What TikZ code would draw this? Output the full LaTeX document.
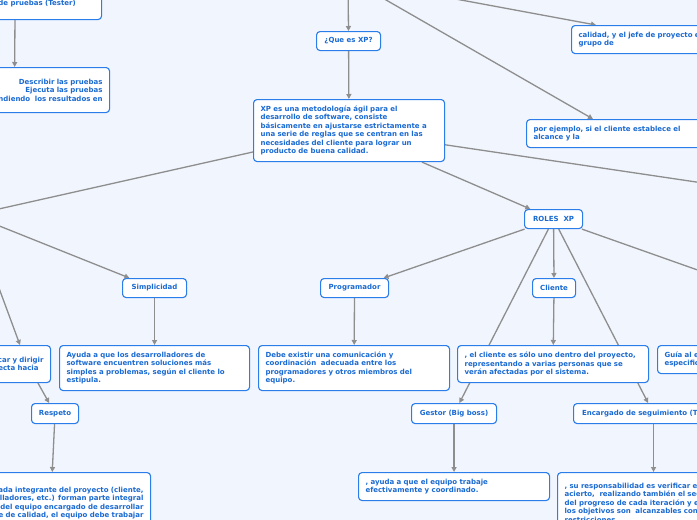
\documentclass[tikz,border=0pt]{standalone}
\usepackage{fontspec}
\setmainfont{DejaVu Sans}
\newfontfamily\boxfont{DejaVu Sans Bold}
\newcommand\nohyph{\hyphenpenalty=10000\exhyphenpenalty=10000\relax}
\usetikzlibrary{arrows.meta,backgrounds}
\definecolor{bg}{HTML}{F1F5FE}
\definecolor{bblue}{HTML}{2B7DE9}
\definecolor{tblue}{HTML}{1A6AD2}
\definecolor{edge}{HTML}{8E8E8E}
\tikzset{
  box/.style={draw=bblue, fill=white, rounded corners=3.5pt, line width=1.1pt, anchor=north west,
    font=\boxfont\fontsize{7.0}{8.5}\selectfont\nohyph, text=tblue, inner xsep=7pt, inner ysep=3pt, align=left},
  cbox/.style={box, align=center, inner xsep=0pt},
  link/.style={draw=edge, line width=1.3pt, -{Triangle[width=5pt,length=5pt]}},
  plain/.style={draw=edge, line width=1.3pt}
}
\newcommand\bx[7]{\pgfmathsetmacro\tw{#5-14}\node[#1,text width=\tw pt,minimum height=#6pt] (#2) at (#3,#4) {#7};}
\newcommand\cx[6]{\node[cbox,minimum width=#4pt,minimum height=#5pt] (#1) at (#2,#3) {#6};}
\begin{document}
\begin{tikzpicture}[x=1pt,y=-1pt]
\useasboundingbox (0,0) rectangle (697,520);
\clip (0,0) rectangle (697,520);
\coordinate (top1) at (348,-30);
\coordinate (top2) at (360,-15);
\coordinate (top3) at (380,-15);
\coordinate (offleft) at (-28,215);
\coordinate (offright) at (730,187);
\coordinate (offright2) at (740,285);
\cx{tester}{-72}{-12}{173}{31}{Encargado de pruebas (Tester)}
\bx{box}{testerdesc}{-81}{67}{190}{45}{\mbox{}\hfill Describir las pruebas\hspace*{27pt}\\\mbox{}\hfill Ejecuta las pruebas\hspace*{34pt}\\\mbox{}\hfill entendiendo\ \ los resultados en}
\cx{que}{316}{31}{64}{19}{¿Que es XP?}
\bx{box}{xp}{253}{99}{191}{62}{XP es una metodología ágil para el\\desarrollo de software, consiste\\básicamente en ajustarse estrictamente a\\una serie de reglas que se centran en las\\necesidades del cliente para lograr un\\producto de buena calidad.}
\bx{box}{calidad}{571}{25}{200}{28}{calidad, y el jefe de proyecto el\\grupo de}
\bx{box}{ejemplo}{526}{119}{200}{28}{por ejemplo, si el cliente establece el\\alcance y la}
\cx{roles}{524}{209}{58}{19}{ROLES\ \ XP}
\cx{simp}{122}{278}{64}{19}{Simplicidad}
\cx{prog}{320}{278}{68}{19}{Programador}
\cx{cli}{532}{278}{43}{19}{Cliente}
\bx{box}{leftbox}{-100}{345}{150}{37}{\mbox{}\hfill Planificar y dirigir\\\mbox{}\hfill correcta hacia\hspace*{5pt}}
\bx{box}{simpdesc}{59}{345}{190}{45}{Ayuda a que los desarrolladores de\\software encuentren soluciones más\\simples a problemas, según el cliente lo\\estipula.}
\bx{box}{progdesc}{258}{345}{191}{45}{Debe existir una comunicación y\\coordinación\ \ adecuada entre los\\programadores y otros miembros del\\equipo.}
\bx{box}{clidesc}{457}{345}{191}{37}{, el cliente es sólo uno dentro del proyecto,\\representando a varias personas que se\\verán afectadas por el sistema.}
\bx{box}{guia}{657}{345}{150}{28}{Guía al equipo\\especificando}
\cx{resp}{31}{403}{47}{20}{Respeto}
\cx{gestor}{411}{403}{85}{20}{Gestor (Big boss)}
\cx{enc}{573}{403}{160}{20}{Encargado de seguimiento (Tracker)}
\bx{box}{respdesc}{-50}{472}{200}{70}{\mbox{}\hfill Cada integrante del proyecto (cliente,\hspace*{14pt}\\\mbox{}\hfill desarrolladores, etc.) forman parte integral\\\mbox{}\hfill del equipo encargado de desarrollar\hspace*{24pt}\\\mbox{}\hfill software de calidad, el equipo debe trabajar\\\mbox{}\hfill como un conjunto sin hacer decisiones\hspace*{23pt}\\}
\bx{box}{gestordesc}{358}{472}{191}{28}{, ayuda a que el equipo trabaje\\efectivamente y coordinado.}
\bx{box}{encdesc}{557}{472}{192}{60}{, su responsabilidad es verificar el grado de\\acierto,\ \ realizando también el seguimiento\\del progreso de cada iteración y evaluar si\\los objetivos son\ \ alcanzables con las\\restricciones.}
\begin{scope}[on background layer]
\fill[bg] (0,0) rectangle (697,520);
\draw[link] (top1) -- (que);
\draw[link] (top2) -- (ejemplo.north -| 593,0);
\draw[link] (top3) -- (calidad.north -| 596,0);
\draw[link] (tester) -- (testerdesc);
\draw[link] (que) -- (xp);
\draw[plain] (xp) -- (offleft);
\draw[plain] (xp) -- (offright);
\draw[link] (xp) -- (roles);
\draw[link] (offleft) -- (simp);
\draw[link] (offleft) -- (leftbox.north -| 20,0);
\draw[link] (leftbox.south -| 38,0) -- (resp);
\draw[link] (resp) -- (respdesc);
\draw[link] (simp) -- (simpdesc);
\draw[link] (roles) -- (prog);
\draw[link] (roles) -- (cli);
\draw[link] (roles) -- (gestor);
\draw[link] (roles) -- (enc);
\draw[plain] (roles) -- (offright2);
\draw[link] (prog) -- (progdesc);
\draw[link] (cli) -- (clidesc);
\draw[link] (gestor) -- (gestordesc);
\draw[link] (enc) -- (encdesc);
\end{scope}
\end{tikzpicture}
\end{document}
